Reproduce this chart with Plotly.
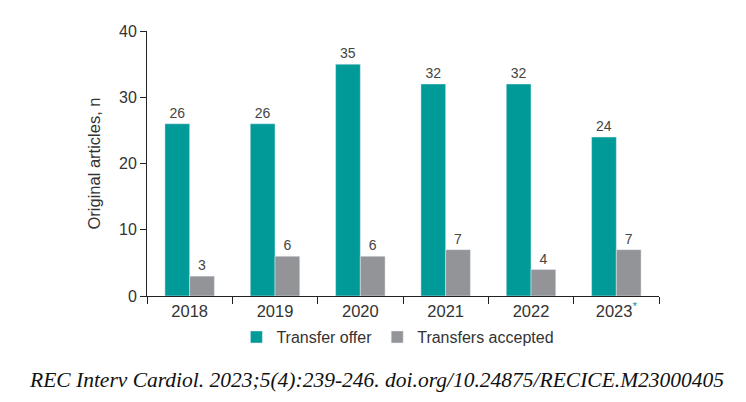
import plotly.graph_objects as go

years = ["2018", "2019", "2020", "2021", "2022", "2023"]
year_labels = ["2018", "2019", "2020", "2021", "2022",
               "2023<span style='color:#009B98'><sup>*</sup></span>"]
transfer_offer = [26, 26, 35, 32, 32, 24]
transfers_accepted = [3, 6, 6, 7, 4, 7]

TEAL = "#009B98"
GRAY = "#939497"
TXT = "#333333"

fig = go.Figure()
fig.add_bar(x=years, y=transfer_offer, name="Transfer offer", marker_color=TEAL,
            text=transfer_offer, textposition="outside",
            textfont=dict(size=14, color="#444444"), cliponaxis=False)
fig.add_bar(x=years, y=transfers_accepted, name="Transfers accepted", marker_color=GRAY,
            text=transfers_accepted, textposition="outside",
            textfont=dict(size=14, color="#444444"), cliponaxis=False)

fig.update_layout(
    width=746, height=402,
    margin=dict(l=147, r=87, t=31, b=106),
    paper_bgcolor="white", plot_bgcolor="white",
    barmode="group", bargap=0.42, bargroupgap=0,
    font=dict(family="Liberation Sans, Arial, sans-serif", size=15, color=TXT),
    showlegend=True,
    legend=dict(orientation="h", x=0.49, xanchor="center", y=-0.155, yanchor="middle",
                font=dict(size=16, color=TXT), itemwidth=30, traceorder="normal"),
)
fig.update_xaxes(
    tickvals=years, ticktext=year_labels, tickson="boundaries",
    ticks="outside", ticklen=7, tickcolor="#222", showline=True, linecolor="#222",
    linewidth=1, showgrid=False, tickfont=dict(size=16.5, color=TXT),
)
fig.update_yaxes(
    range=[0, 40], tickvals=[0, 10, 20, 30, 40], ticks="outside", ticklen=6,
    tickcolor="#222", showline=True, linecolor="#222", linewidth=1,
    showgrid=False, zeroline=False, tickfont=dict(size=16, color=TXT),
    title=dict(text="Original articles, n", font=dict(size=16.5, color=TXT), standoff=14),
)
fig.add_annotation(
    text="<i>REC Interv Cardiol. 2023;5(4):239-246. doi.org/10.24875/RECICE.M23000405</i>",
    xref="paper", yref="paper", x=(376 - 147) / 512, y=-84 / 265,
    xanchor="center", yanchor="middle", showarrow=False,
    font=dict(family="Liberation Serif, Times New Roman, serif", size=21.5, color="#111"),
)
fig.write_html("out.html")
